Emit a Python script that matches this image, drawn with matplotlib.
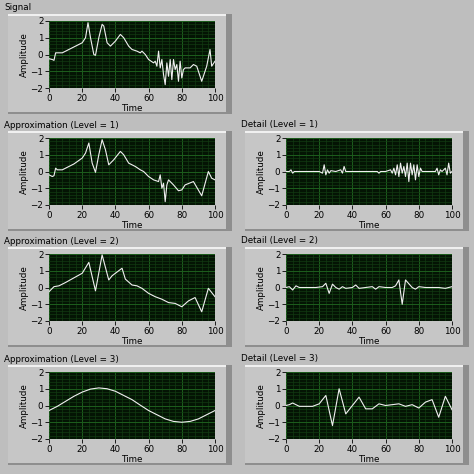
import numpy as np
import matplotlib; matplotlib.use('Agg'); import matplotlib.pyplot as plt
from matplotlib.patches import Rectangle

# ---- data ----
sig_x = [0,2,3,4,8,10,15,20,22,23.5,25,27,28,30,32,33,35,37,40,43,45,48,50,53,55,56,58,60,63,64,65,66,67,68,69,70,71,72,73,74,75,76,77,78,79,80,81,82,85,87,89,92,95,97,98,100]
sig_y = [-0.25,-0.3,-0.35,0.1,0.1,0.2,0.45,0.7,1.0,1.9,1.0,0,-0.05,1.0,1.8,1.7,0.7,0.5,0.8,1.2,1.0,0.5,0.3,0.2,0.1,0.2,0,-0.3,-0.5,-0.4,-0.7,0.2,-0.8,-0.3,-1.2,-1.8,-0.5,-1.3,-0.3,-1.5,-0.3,-0.9,-0.6,-1.6,-0.4,-1.4,-0.9,-0.8,-0.8,-0.6,-0.7,-1.6,-0.7,0.3,-0.7,-0.4]

a1_x = [0,2,3,4,5,8,15,20,22,24,26,28,30,32,34,36,39,43,45,48,52,55,57,60,63,66,67,68,69,70,71,72,75,78,80,82,87,92,96,98,100]
a1_y = [-0.2,-0.3,-0.25,0.2,0.1,0.1,0.45,0.8,1.1,1.7,0.5,-0.05,1.0,1.9,1.3,0.4,0.7,1.2,1.0,0.5,0.3,0.1,0,-0.3,-0.5,-0.6,-0.2,-1.0,-0.7,-1.8,-0.8,-0.5,-0.8,-1.15,-1.1,-0.8,-0.6,-1.45,0,-0.4,-0.5]

d1_x = [0,2,3,4,5,20,22,23,24,25,26,27,30,33,34,35,36,45,55,56,57,60,63,64,65,66,67,68,69,70,71,72,73,74,75,76,77,78,79,80,81,82,90,91,92,93,94,96,97,98,99,100]
d1_y = [0,0,0.1,-0.1,0,0,-0.1,0.4,-0.2,0.1,-0.1,0.05,0,0.1,-0.1,0.3,0,0,0,-0.1,0,0,0.1,-0.1,0.2,-0.2,0.4,-0.3,0.5,-0.1,0.3,-0.3,0.5,-0.6,0.5,-0.2,0.4,-0.5,0.4,-0.3,0.2,0,0,0.2,-0.2,0.1,0,0.2,-0.2,0.5,-0.1,0]

a2_x = [0,3,6,10,20,24,28,32,36,38,44,46,50,53,56,60,64,68,72,76,80,84,88,92,96,100]
a2_y = [-0.25,0.05,0.1,0.3,0.85,1.5,-0.2,1.95,0.45,0.7,1.15,0.5,0.15,0.1,-0.05,-0.35,-0.55,-0.7,-0.9,-0.95,-1.15,-0.8,-0.6,-1.45,-0.05,-0.55]

d2_x = [0,2,4,6,8,18,22,24,26,28,30,32,34,36,40,42,44,48,52,54,56,60,64,66,68,70,72,76,78,80,84,88,92,96,98,100]
d2_y = [0,0.05,-0.15,0.1,0,0,0.05,0.25,-0.35,0.2,0,-0.1,0.05,-0.05,0,0.15,-0.05,0,0.05,-0.1,0.05,0,0,0.1,0.45,-1.0,0.45,0,-0.1,0.05,0,0,0,-0.05,0,0.05]

a3_x = [0,5,10,15,20,25,30,35,40,45,50,55,60,65,70,75,80,85,90,95,100]
a3_y = [-0.3,-0.05,0.25,0.55,0.8,0.98,1.05,1.0,0.85,0.6,0.35,0.02,-0.3,-0.55,-0.8,-0.95,-1.0,-0.95,-0.8,-0.55,-0.3]

d3_x = [0,2,4,6,8,12,16,20,24,28,32,36,40,44,48,52,56,60,64,68,72,76,80,84,88,92,96,100]
d3_y = [0,0.05,0.15,0.05,-0.05,-0.05,-0.05,0.1,0.6,-1.2,1.0,-0.5,0,0.5,-0.2,-0.2,0.1,0,0.05,0.1,-0.05,0.05,-0.15,0.2,0.35,-0.7,0.55,-0.25]

panels = [
    ('Signal', sig_x, sig_y, 0, 0),
    ('Approximation (Level = 1)', a1_x, a1_y, 0, 1),
    ('Detail (Level = 1)', d1_x, d1_y, 1, 1),
    ('Approximation (Level = 2)', a2_x, a2_y, 0, 2),
    ('Detail (Level = 2)', d2_x, d2_y, 1, 2),
    ('Approximation (Level = 3)', a3_x, a3_y, 0, 3),
    ('Detail (Level = 3)', d3_x, d3_y, 1, 3),
]

W = H = 474
fig = plt.figure(figsize=(4.74, 4.74), dpi=100, facecolor='#bebebe')

def px(x, y, w, h):  # pixel box (top-left origin) -> figure fraction
    return [x / W, 1 - (y + h) / H, w / W, h / H]

def box(x, y, w, h, color):
    fig.patches.append(Rectangle((x / W, 1 - (y + h) / H), w / W, h / H, transform=fig.transFigure,
                                 facecolor=color, edgecolor='none', zorder=-1))

row_top = [0, 117, 233, 351]
col_left = [0, 237]
for title, xs, ys, c, r in panels:
    x0, y0 = col_left[c], row_top[r]
    fig.text((x0 + 4) / W, 1 - (y0 + 8) / H, title, fontsize=6.3, va='center', ha='left')
    # bevelled frame
    fx, fy, fw, fh = x0 + 8, y0 + 14, 224, 100
    box(fx, fy, fw, fh, '#c6c6c6')
    box(fx + fw - 6, fy, 6, fh, '#8e8e8e')
    box(fx, fy + fh - 2, fw, 2, '#8e8e8e')
    box(fx, fy, fw - 6, 2, '#f0f0f0')
    ax = fig.add_axes(px(x0 + 49, y0 + 21, 166, 67))
    ax.set_facecolor('#041404')
    ax.plot(xs, ys, color='#f0f0f0', lw=0.8)
    ax.set_xlim(0, 100); ax.set_ylim(-2, 2)
    ax.set_xticks(range(0, 101, 20)); ax.set_yticks(range(-2, 3))
    ax.set_xticks(range(0, 101, 4), minor=True); ax.set_yticks(np.arange(-2, 2.01, 0.2), minor=True)
    ax.grid(which='major', color='#1d5e1d', lw=0.7)
    ax.grid(which='minor', color='#123a12', lw=0.5)
    ax.set_axisbelow(True)
    ax.tick_params(labelsize=6.3, length=3, pad=1, width=0.6)
    ax.tick_params(which='minor', length=0)
    ax.set_xlabel('Time', fontsize=6.3, labelpad=1)
    ax.set_ylabel('Amplitude', fontsize=6.3, labelpad=1)
    for s in ax.spines.values():
        s.set_visible(False)

fig.savefig('out.png', dpi=100, facecolor=fig.get_facecolor())
